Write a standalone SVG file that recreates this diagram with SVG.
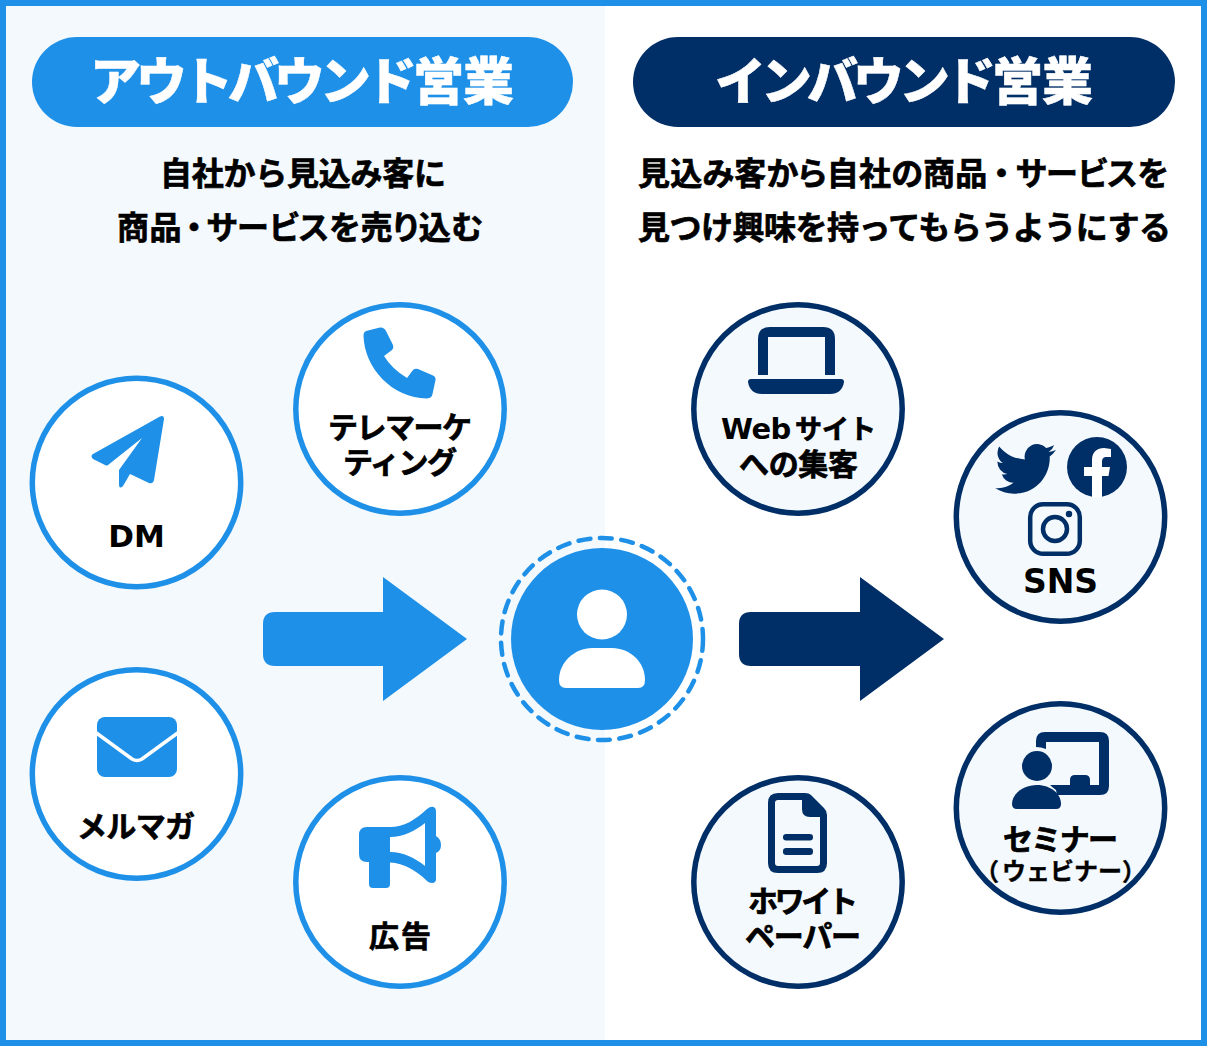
<svg xmlns="http://www.w3.org/2000/svg" width="1207" height="1046" viewBox="0 0 1207 1046">
<style>
text{font-family:"Noto Sans CJK JP","Noto Sans",sans-serif;font-weight:900;fill:#000}
.lat{font-family:"DejaVu Sans","Noto Sans CJK JP",sans-serif;font-weight:700}
.head{font-size:51px;fill:#fff;stroke:#fff;stroke-width:.5px}
.kana{letter-spacing:-5px}
.sub{font-size:32px;font-weight:700;stroke:#000;stroke-width:.7px}
.lab{font-size:30px;font-weight:700;stroke:#000;stroke-width:.7px}
.bl{fill:#1e90e8}
.nv{fill:#002e66}
.cb{fill:#fff;stroke:#1e90e8;stroke-width:5.500}
.cn{fill:#f3f9fd;stroke:#002e66;stroke-width:5.500}
</style>
<g id="background">
<rect width="1207" height="1046" fill="#fff"/>
<rect x="0" y="0" width="605" height="1046" fill="#f3f9fd"/>
<rect x="3" y="3" width="1201" height="1040" fill="none" stroke="#1e90e8" stroke-width="6"/>
</g>
<g id="header-outbound">
<rect x="32" y="37" width="541" height="90" rx="45" class="bl"/>
<text class="head" x="90" y="100"><tspan class="kana">アウトバウンド</tspan><tspan x="413" letter-spacing="-1">営業</tspan></text>
<text class="sub" x="160" y="185" textLength="286">自社から見込み客に</text>
<text class="sub" style="font-feature-settings:'palt';letter-spacing:.5px" x="117" y="239">商品<tspan dx="4">・</tspan><tspan dx="4">サービスを売り込む</tspan></text>
</g>
<g id="header-inbound">
<rect x="633" y="37" width="542" height="90" rx="45" class="nv"/>
<text class="head" x="715" y="100"><tspan class="kana" letter-spacing="-4.500">インバウンド</tspan><tspan x="992" letter-spacing="-1">営業</tspan></text>
<text class="sub" style="font-feature-settings:'palt';letter-spacing:.25px" x="638" y="185">見込み客から自社の商品<tspan dx="6">・</tspan><tspan dx="6">サービスを</tspan></text>
<text class="sub" x="638" y="239" textLength="533">見つけ興味を持ってもらうようにする</text>
</g>
<g id="connectors">
<path class="bl" d="M275 612H383V577L467 639L383 701V666H275Q263 666 263 654V624Q263 612 275 612Z"/>
<path class="nv" d="M751 612H860V577L944 639L860 701V666H751Q739 666 739 654V624Q739 612 751 612Z"/>
</g>
<g id="node-dm">
<circle class="cb" cx="136.500" cy="482.500" r="104.200"/>
<path class="bl" d="M160 416.500Q164 415 164 419L154 480Q153 484 149 483L130 474L123 486Q119 490 119 484V470L142 438L108 465Q107 466 105 465L93 459Q90 456 93 454Z"/>
<text class="lat" style="font-size:31px" x="136.500" y="547" text-anchor="middle">DM</text>
</g>
<g id="node-tele">
<circle class="cb" cx="400" cy="409" r="104.200"/>
<path class="bl" d="M366 331L380 327.500Q384 327 386 331L393 345Q394 348 392 350L384 356Q392 369 407 378L413 370Q415 368 418 369L433 375.500Q436 377 435.500 380L432.500 394Q432 398 427 398.500C392 398 364 368 363.500 335Q363.500 332 366 331Z"/>
<text class="lab" x="328" y="438" textLength="144">テレマーケ</text>
<text class="lab" x="343" y="473" textLength="114">ティング</text>
</g>
<g id="node-mail">
<circle class="cb" cx="136.500" cy="774" r="104.200"/>
<rect class="bl" x="97" y="717" width="80" height="60" rx="8"/>
<path d="M95 732L132 759Q137 762 142 759L179 732" fill="none" stroke="#fff" stroke-width="3.500"/>
<text class="lab" x="77" y="837" textLength="118">メルマガ</text>
</g>
<g id="node-ad">
<circle class="cb" cx="400" cy="882" r="104.200"/>
<path class="bl" d="M367 827H390C404 827 415 820 427 809Q432 805 435 808Q436 809 436 812V836Q441 839 441 845Q441 851 436 853V879Q436 883 432 883Q429 883 427 881C417 871 404 863 390 862.500V884Q390 888 386 888H373Q369 888 369 884V862H367Q359 862 359 854V835Q359 827 367 827ZM390 837V852C403 852 415 858 425 866V823C415 831 403 837 390 837Z" fill-rule="evenodd"/>
<text class="lab" x="369" y="947" textLength="62">広告</text>
</g>
<g id="node-user">
<circle cx="602" cy="639" r="101" fill="none" stroke="#1e90e8" stroke-width="4.500" stroke-linecap="round" stroke-dasharray="12 9.500"/>
<circle class="bl" cx="602" cy="639" r="91"/>
<circle cx="602" cy="614.500" r="25" fill="#fff"/>
<path fill="#fff" d="M559 680C559 662 575 648 592 648H612C630 648 645 662 645 680Q645 688 638 688H566Q559 688 559 680Z"/>
</g>
<g id="node-web">
<circle class="cn" cx="798" cy="409" r="104.200"/>
<path class="nv" d="M768 375H758V339Q758 327 770 327H823Q835 327 835 339V375H825V337H768Z"/>
<path class="nv" d="M751 379H841Q844 379 844 382Q842 394 830 394H762Q750 394 748 382Q748 379 751 379Z"/>
<text class="lat" style="font-size:29px;letter-spacing:-.5px" x="721" y="439">Web<tspan x="795" style="font-family:'Noto Sans CJK JP',sans-serif;font-size:27px;letter-spacing:0;stroke:#000;stroke-width:.7px">サイト</tspan></text>
<text class="lab" x="739" y="475" textLength="119">への集客</text>
</g>
<g id="node-sns">
<circle class="cn" cx="1060.500" cy="517" r="104.200"/>
<path class="nv" transform="translate(995 438.400) scale(2.540)" d="M23.953 4.57a10 10 0 01-2.825.775 4.958 4.958 0 002.163-2.723c-.951.555-2.005.959-3.127 1.184a4.92 4.92 0 00-8.384 4.482C7.69 8.095 4.067 6.13 1.64 3.162a4.822 4.822 0 00-.666 2.475c0 1.71.87 3.213 2.188 4.096a4.904 4.904 0 01-2.228-.616v.06a4.923 4.923 0 003.946 4.827 4.996 4.996 0 01-2.212.085 4.936 4.936 0 004.604 3.417 9.867 9.867 0 01-6.102 2.105c-.39 0-.779-.023-1.17-.067a13.995 13.995 0 007.557 2.209c9.053 0 13.998-7.496 13.998-13.985 0-.21 0-.42-.015-.63A9.935 9.935 0 0024 4.59z"/>
<circle class="nv" cx="1097" cy="467" r="30"/>
<path fill="#fff" d="M1092 497.500V476H1084V467H1092V460C1092 452 1097 448 1104 448L1111 449V457H1107C1103 457 1102 459 1102 462V467H1110L1108.500 476H1102V497.500Z"/>
<rect x="1030.200" y="504.200" width="49.600" height="49.600" rx="13" fill="none" stroke="#002e66" stroke-width="4.500"/>
<circle cx="1055" cy="529" r="12" fill="none" stroke="#002e66" stroke-width="4.500"/>
<circle class="nv" cx="1069" cy="514" r="3.200"/>
<text class="lat" style="font-size:33px" x="1060.500" y="593" text-anchor="middle">SNS</text>
</g>
<g id="node-seminar">
<circle class="cn" cx="1060.500" cy="808" r="104.200"/>
<path class="nv" d="M1036 747V741Q1036 732 1045 732H1100Q1109 732 1109 741V786Q1109 795 1100 795H1057L1056 790Q1052 787 1050 785H1070V780Q1070 775 1075 775H1085Q1090 775 1090 780V785H1099V742H1046V749Q1041 747 1036 747Z"/>
<circle class="nv" cx="1037" cy="766" r="15"/>
<path class="nv" d="M1012 804C1012 794 1023 785 1037 785C1051 785 1061 794 1061 804Q1061 809 1056 809H1017Q1012 809 1012 804Z"/>
<text class="lab" x="1003" y="850" textLength="115">セミナー</text>
<text style="font-size:24px;font-weight:700;stroke:#000;stroke-width:.4px;font-feature-settings:'fwid'" y="880"><tspan x="975">（</tspan><tspan x="1002">ウェビナー</tspan><tspan x="1122">）</tspan></text>
</g>
<g id="node-paper">
<circle class="cn" cx="798" cy="882" r="104.200"/>
<path class="nv" fill-rule="evenodd" d="M778 793H805Q809 793 811 795L824 808Q827 811 827 815V863Q827 873 817 873H778Q768 873 768 863V803Q768 793 778 793ZM775 803V863Q775 866 778 866H817Q820 866 820 863V817H810Q802 817 802 809V800H778Q775 800 775 803Z"/>
<rect class="nv" x="783" y="834" width="30" height="6.500" rx="3.200"/>
<rect class="nv" x="783" y="848" width="30" height="7" rx="3.200"/>
<text class="lab" x="748" y="912" textLength="110">ホワイト</text>
<text class="lab" x="745" y="947" textLength="116">ペーパー</text>
</g>
</svg>
